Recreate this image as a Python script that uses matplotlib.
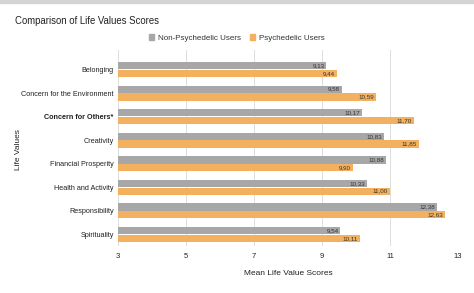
import matplotlib
matplotlib.use("Agg")
import matplotlib.pyplot as plt
import numpy as np
from matplotlib.patches import Patch

plt.rcParams["font.family"] = ["Liberation Sans", "DejaVu Sans"]

categories = ["Belonging", "Concern for the Environment", "Concern for Others*",
              "Creativity", "Financial Prosperity", "Health and Activity",
              "Responsibility", "Spirituality"]
non_psy = [9.13, 9.58, 10.17, 10.83, 10.88, 10.33, 12.38, 9.54]
psy = [9.44, 10.59, 11.70, 11.85, 9.90, 11.00, 12.63, 10.11]
xticks = [3, 5, 7, 9, 11, 13]

grey = "#a7a7a7"
orange = "#f3b15f"

fig = plt.figure(figsize=(4.74, 2.93), dpi=100)
# grey strip at the top of the screenshot
fig.patches.append(plt.Rectangle((0, 0.99), 1, 0.01, transform=fig.transFigure,
                                 color="#d4d4d4", zorder=0))
ax = fig.add_axes([0.249, 0.1594, 0.717, 0.67])

y = np.arange(len(categories))
h = 0.31
ax.barh(y - h / 2 - 0.01, [v - 3 for v in non_psy], left=3, height=h, color=grey, zorder=2)
ax.barh(y + h / 2 + 0.01, [v - 3 for v in psy], left=3, height=h, color=orange, zorder=2)

for i in range(len(categories)):
    ax.text(non_psy[i] - 0.05, y[i] - h / 2 - 0.01, f"{non_psy[i]:.2f}".replace(".", ","),
            ha="right", va="center", fontsize=4.5, color="#333333", zorder=3)
    ax.text(psy[i] - 0.05, y[i] + h / 2 + 0.01, f"{psy[i]:.2f}".replace(".", ","),
            ha="right", va="center", fontsize=4.5, color="#333333", zorder=3)

ax.set_xlim(3, 13)
ax.set_ylim(7.5, -0.83)
ax.set_xticks(xticks)
ax.set_xticklabels([str(t) for t in xticks], fontsize=5.5, color="#222222")
ax.set_yticks(y)
ax.set_yticklabels(categories, fontsize=5.2, color="#222222")
ax.get_yticklabels()[2].set_fontweight("bold")
ax.tick_params(axis="y", length=0, pad=3)
ax.tick_params(axis="x", length=0, pad=5)
for s in ax.spines.values():
    s.set_visible(False)
ax.grid(axis="x", color="#dddddd", linewidth=0.7, zorder=0)

ax.set_xlabel("Mean Life Value Scores", fontsize=6, color="#222222", labelpad=7)
fig.text(0.038, 0.49, "Life Values", rotation=90, fontsize=6, color="#222222",
         ha="center", va="center")

fig.text(0.032, 0.93, "Comparison of Life Values Scores", fontsize=6.9, color="#222222",
         ha="left", va="center")

handles = [Patch(color=grey), Patch(color=orange)]
fig.legend(handles, ["Non-Psychedelic Users", "Psychedelic Users"], loc="center",
           bbox_to_anchor=(0.5, 0.87), ncol=2, frameon=False, fontsize=5.8,
           handlelength=0.6, handleheight=0.6, handletextpad=0.5, columnspacing=1.2,
           labelcolor="#333333")

fig.savefig("out.png", dpi=100)
